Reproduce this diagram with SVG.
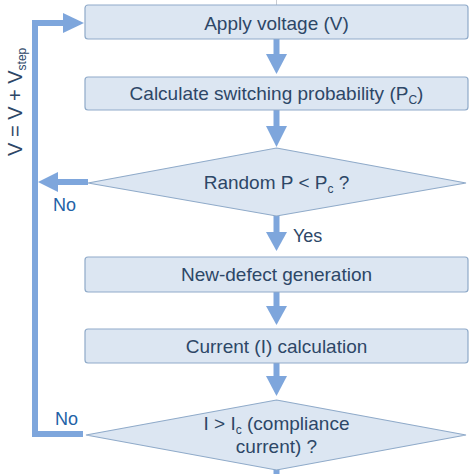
<svg xmlns="http://www.w3.org/2000/svg" width="474" height="474" viewBox="0 0 474 474">
<style>
.box{fill:#dce6f2;stroke:#8faac9;stroke-width:1.2}
.t{font-family:"Liberation Sans",Arial,sans-serif;font-size:19px;fill:#2d4767;text-anchor:middle}
.s{font-size:12px}
.no{font-family:"Liberation Sans",Arial,sans-serif;font-size:18px;fill:#2362a6}
.ln{fill:none;stroke:#7ea6dc;stroke-width:6}
.hd{fill:#7ea6dc}
</style>
<rect width="474" height="474" fill="#ffffff"/>
<g id="connectors">
<line x1="276.5" y1="0" x2="276.5" y2="5" stroke="#c9ccd2" stroke-width="1"/>
<line class="ln" x1="276.5" y1="39" x2="276.5" y2="55"/>
<polygon class="hd" points="266,54 287,54 276.5,74"/>
<line class="ln" x1="276.5" y1="110" x2="276.5" y2="127"/>
<polygon class="hd" points="266,126 287,126 276.5,147"/>
<line class="ln" x1="276.5" y1="216" x2="276.5" y2="233"/>
<polygon class="hd" points="266,232 287,232 276.5,251"/>
<line class="ln" x1="276.5" y1="292" x2="276.5" y2="307"/>
<polygon class="hd" points="266,306 287,306 276.5,325"/>
<line class="ln" x1="276.5" y1="363" x2="276.5" y2="377"/>
<polygon class="hd" points="266,376 287,376 276.5,396"/>
<line class="ln" x1="276.5" y1="469" x2="276.5" y2="474"/>
<line class="ln" x1="88" y1="182" x2="56" y2="182"/>
<polygon class="hd" points="58,172 58,192 38,182"/>
<polyline class="ln" points="83,434 35,434 35,23 64,23"/>
<polygon class="hd" points="63,13 63,33 84,23"/>
</g>
<g id="n1"><rect class="box" x="85" y="5" width="383" height="34" rx="3"/><text class="t" x="276.5" y="30">Apply voltage (V)</text></g>
<g id="n2"><rect class="box" x="85" y="77" width="383" height="33" rx="3"/><text class="t" x="276.5" y="100">Calculate switching probability (P<tspan class="s" dy="4">C</tspan><tspan dy="-4">)</tspan></text></g>
<g id="n3"><polygon class="box" points="276.5,148 466,183 276.5,216 88,183"/><text class="t" x="276.5" y="189">Random P &lt; P<tspan class="s" dy="4">c</tspan><tspan dy="-4"> ?</tspan></text></g>
<g id="n4"><rect class="box" x="85" y="257" width="383" height="35" rx="3"/><text class="t" x="276.5" y="281">New-defect generation</text></g>
<g id="n5"><rect class="box" x="85" y="329" width="383" height="34" rx="3"/><text class="t" x="276.5" y="353">Current (I) calculation</text></g>
<g id="n6"><polygon class="box" points="276.5,400 466,435 276.5,470 86,435"/><text class="t" x="276.5" y="430">I &gt; I<tspan class="s" dy="4">c</tspan><tspan dy="-4"> (compliance</tspan></text><text class="t" x="276.5" y="453">current) ?</text></g>
<g id="labels">
<text class="no" x="53" y="211">No</text>
<text class="no" x="55" y="425">No</text>
<text class="t" x="293" y="242" style="text-anchor:start;font-size:18px">Yes</text>
<text class="t" transform="translate(22,156) rotate(-90)" style="text-anchor:start;font-size:20px">V = V + V<tspan class="s" dy="4">step</tspan></text>
</g>
</svg>
